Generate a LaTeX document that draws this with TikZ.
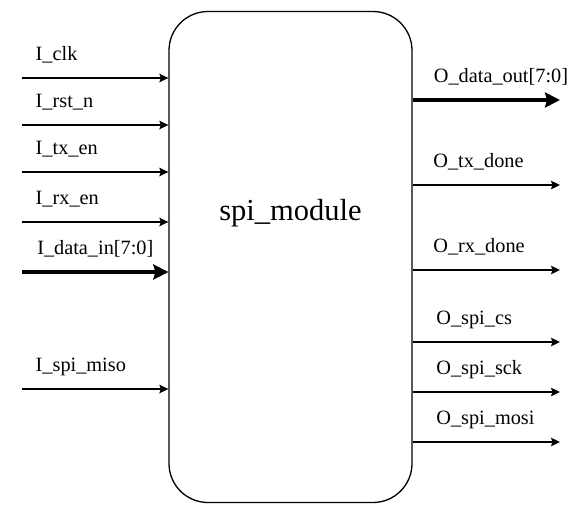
\documentclass[tikz,border=0pt]{standalone}
\usepackage{fontspec}
\setmainfont{Liberation Serif}
\usetikzlibrary{arrows.meta, positioning}

\tikzset{
  port/.style={line width=1.4pt, -{Stealth[length=9pt,width=8.5pt,inset=1.5pt]}},
  bus/.style={line width=4.5pt, -{Stealth[length=15pt,width=15pt,inset=2pt]}},
  pin/.style={font=\fontsize{20.3}{24}\selectfont, inner sep=0pt, anchor=base west,
              pos=0, xshift=13pt, yshift=18pt},
}

\begin{document}
\begin{tikzpicture}[x=1pt,y=-1pt]
          \useasboundingbox (0,0) rectangle (585,517);
          \node[draw,line width=1.3pt,rounded corners=39pt,minimum width=243pt,
                minimum height=491pt] (spi) at (290.5,257) {};
          \node[font=\fontsize{30.5}{36}\selectfont] (name) at ([yshift=44pt]spi.center) {spi\_module};
          % inputs
          \coordinate (clk) at (22,78);
          \coordinate (rst) at (22,125);
          \coordinate (txen) at (22,172);
          \coordinate (rxen) at (22,222);
          \coordinate (din) at (22,272);
          \coordinate (miso) at (22,389);
          \draw[port] (clk) -- (clk -| spi.west) node[pin]{I\_clk};
          \draw[port] (rst) -- (rst -| spi.west) node[pin]{I\_rst\_n};
          \draw[port] (txen) -- (txen -| spi.west) node[pin]{I\_tx\_en};
          \draw[port] (rxen) -- (rxen -| spi.west) node[pin]{I\_rx\_en};
          \draw[bus] (din) -- (din -| spi.west) node[pin]{I\_data\_in[7:0]};
          \draw[port] (miso) -- (miso -| spi.west) node[pin]{I\_spi\_miso};
          % outputs
          \coordinate (dout) at (560,100);
          \coordinate (txd) at (560,185);
          \coordinate (rxd) at (560,270);
          \coordinate (cs) at (560,342);
          \coordinate (sck) at (560,392);
          \coordinate (mosi) at (560,442);
          \draw[bus] (dout -| spi.east) -- (dout) node[pin,xshift=6pt]{O\_data\_out[7:0]};
          \draw[port] (txd -| spi.east) -- (txd) node[pin,xshift=7pt]{O\_tx\_done};
          \draw[port] (rxd -| spi.east) -- (rxd) node[pin,xshift=7pt]{O\_rx\_done};
          \draw[port] (cs -| spi.east) -- (cs) node[pin,xshift=10pt]{O\_spi\_cs};
          \draw[port] (sck -| spi.east) -- (sck) node[pin,xshift=10pt]{O\_spi\_sck};
          \draw[port] (mosi -| spi.east) -- (mosi) node[pin,xshift=10pt]{O\_spi\_mosi};
        \end{tikzpicture}
\end{document}
